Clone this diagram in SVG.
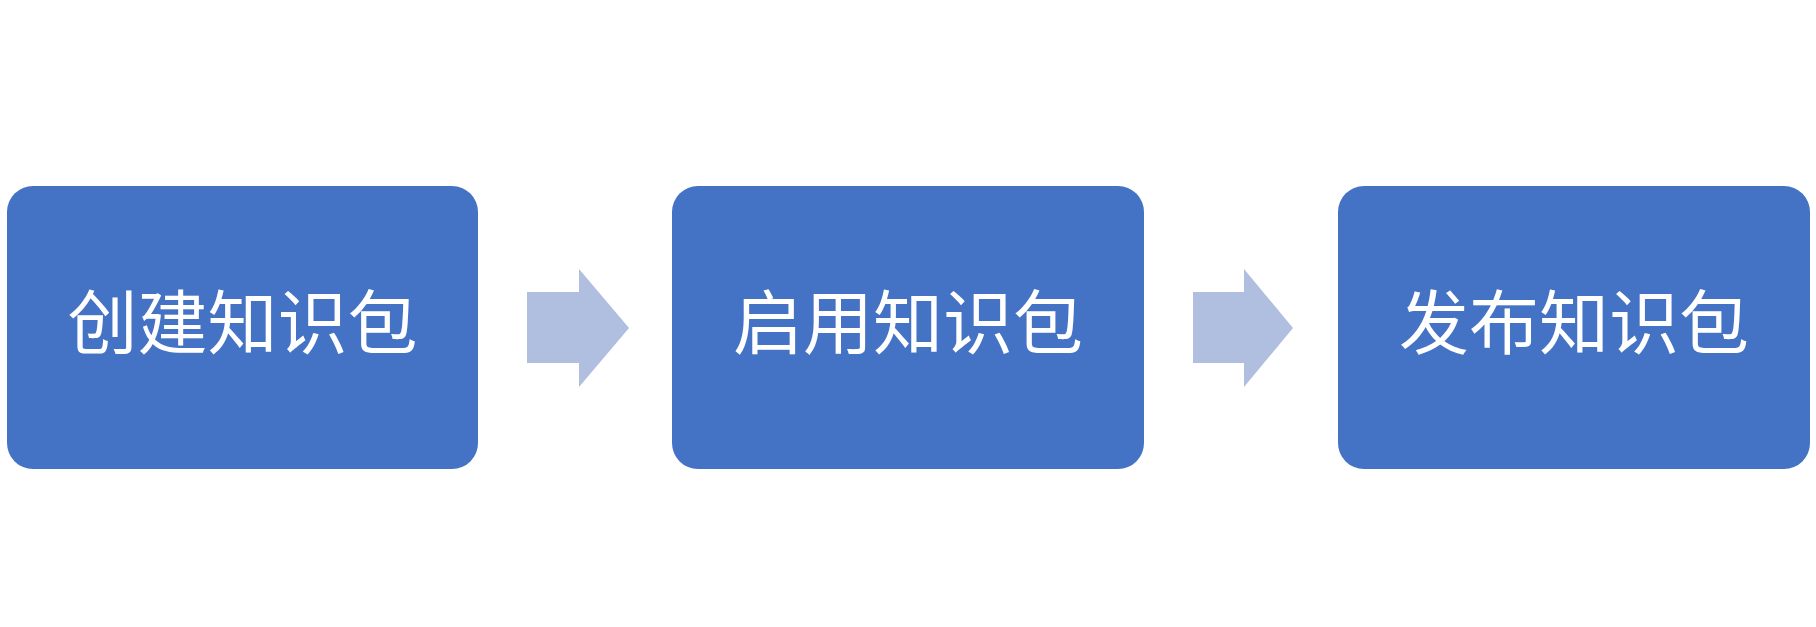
<svg xmlns="http://www.w3.org/2000/svg" width="1816" height="627" viewBox="0 0 1816 627">
<style>
.box{fill:#4472C4;}
.arrow{fill:#B0BEDF;}
.lbl{fill:#FFFFFF;font-family:"Noto Sans CJK SC","Microsoft YaHei",sans-serif;font-size:70px;font-weight:400;text-anchor:middle;}
</style>
<rect width="1816" height="627" fill="#FFFFFF"/>
<g id="connectors">
<polygon class="arrow" points="527,292 579,292 579,269 629,328 579,387 579,363 527,363"/>
<polygon class="arrow" points="1193,292 1244,292 1244,269 1293,328 1244,387 1244,363 1193,363"/>
</g>
<g id="node1">
<rect class="box" x="7" y="186" width="471" height="283" rx="26" ry="26"/>
<text class="lbl" x="242.5" y="349">创建知识包</text>
</g>
<g id="node2">
<rect class="box" x="672" y="186" width="472" height="283" rx="26" ry="26"/>
<text class="lbl" x="908" y="349">启用知识包</text>
</g>
<g id="node3">
<rect class="box" x="1338" y="186" width="472" height="283" rx="26" ry="26"/>
<text class="lbl" x="1574" y="349">发布知识包</text>
</g>
</svg>
